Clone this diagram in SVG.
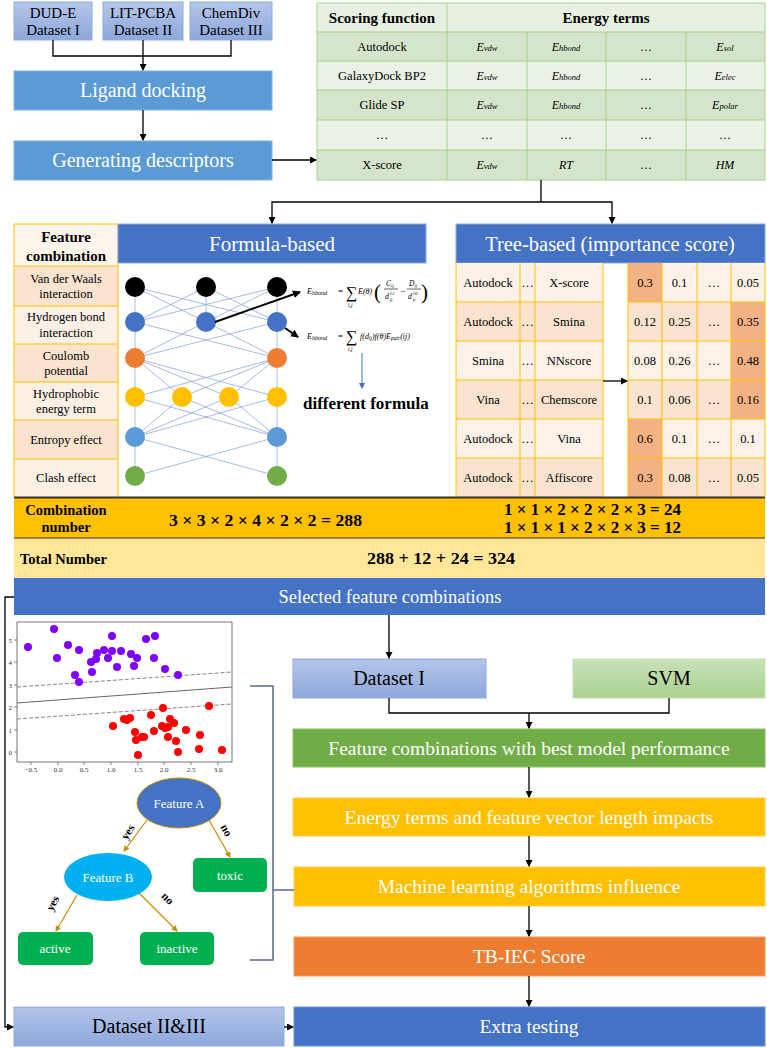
<svg xmlns="http://www.w3.org/2000/svg" width="767" height="1048" viewBox="0 0 767 1048">
<defs>
<style>
text{font-family:"Liberation Serif","Times New Roman",serif;}
.w{fill:#fff;}
.c{text-anchor:middle;}
.b{font-weight:bold;}
.i{font-style:italic;}
.ln{fill:none;stroke:#000;stroke-width:1.3;}
.nn{stroke:#8faadc;stroke-width:0.8;}
.gt{stroke:#a9d18e;stroke-width:1;}
.ot{stroke:#ffc000;stroke-width:1;}
.sans{font-family:"DejaVu Sans","Liberation Sans",sans-serif;}
.br{fill:none;stroke:#5a6a8a;stroke-width:1.5;}
.edge{stroke:#bf9000;stroke-width:1.2;fill:none;}
</style>
<marker id="ah" markerWidth="7" markerHeight="7" refX="6" refY="3.5" orient="auto" markerUnits="userSpaceOnUse"><path d="M0,0 L7,3.5 L0,7 z" fill="#000"/></marker>
<marker id="ahb" markerWidth="8" markerHeight="8" refX="7" refY="4" orient="auto" markerUnits="userSpaceOnUse"><path d="M0,0 L8,4 L0,8 z" fill="#000"/></marker>
<marker id="ahblue" markerWidth="6" markerHeight="6" refX="5" refY="3" orient="auto" markerUnits="userSpaceOnUse"><path d="M0,0 L6,3 L0,6 z" fill="#4472c4"/></marker>
<marker id="ahg" markerWidth="6" markerHeight="6" refX="5" refY="3" orient="auto" markerUnits="userSpaceOnUse"><path d="M0,0 L6,3 L0,6 z" fill="#bf9000"/></marker>
<linearGradient id="gb" x1="0" y1="0" x2="0" y2="1"><stop offset="0" stop-color="#b4c5e9"/><stop offset="1" stop-color="#8ea8dc"/></linearGradient>
<linearGradient id="gg" x1="0" y1="0" x2="0" y2="1"><stop offset="0" stop-color="#c8e2b8"/><stop offset="1" stop-color="#a9d18e"/></linearGradient>
</defs>
<rect width="767" height="1048" fill="#fff"/>

<!-- top datasets -->
<g id="dude"><rect x="14" y="2" width="78" height="38" fill="url(#gb)" stroke="#8faadc"/><text class="c" x="53" y="18" font-size="15">DUD-E</text><text class="c" x="53" y="35" font-size="15">Dataset I</text></g>
<g id="litpcba"><rect x="103" y="2" width="80" height="38" fill="url(#gb)" stroke="#8faadc"/><text class="c" x="143" y="18" font-size="15">LIT-PCBA</text><text class="c" x="143" y="35" font-size="15">Dataset II</text></g>
<g id="chemdiv"><rect x="190" y="2" width="82" height="38" fill="url(#gb)" stroke="#8faadc"/><text class="c" x="231" y="18" font-size="15">ChemDiv</text><text class="c" x="231" y="35" font-size="15">Dataset III</text></g>
<g id="docking"><rect x="14" y="71" width="258" height="39" fill="#5b9bd5" stroke="#7fb0df"/><text class="c w" x="143" y="97" font-size="20">Ligand docking</text></g>
<g id="descriptors"><rect x="14" y="141" width="258" height="39" fill="#5b9bd5" stroke="#7fb0df"/><text class="c w" x="143" y="167" font-size="20">Generating descriptors</text></g>

<!-- scoring table -->
<g id="scoring-table">
<rect x="317" y="3" width="448" height="29" fill="#e8f0e2"/>
<rect x="317" y="32" width="448" height="29" fill="#d5e5cb"/>
<rect x="317" y="61" width="448" height="29" fill="#eaf1e5"/>
<rect x="317" y="90" width="448" height="30" fill="#d5e5cb"/>
<rect x="317" y="120" width="448" height="30" fill="#eaf1e5"/>
<rect x="317" y="150" width="448" height="30" fill="#d5e5cb"/>
<g class="gt">
<line x1="317" y1="3" x2="765" y2="3"/><line x1="317" y1="32" x2="765" y2="32"/><line x1="317" y1="61" x2="765" y2="61"/><line x1="317" y1="90" x2="765" y2="90"/><line x1="317" y1="120" x2="765" y2="120"/><line x1="317" y1="150" x2="765" y2="150"/><line x1="317" y1="180" x2="765" y2="180"/>
<line x1="317" y1="3" x2="317" y2="180"/><line x1="447" y1="3" x2="447" y2="180"/><line x1="527" y1="32" x2="527" y2="180"/><line x1="606" y1="32" x2="606" y2="180"/><line x1="686" y1="32" x2="686" y2="180"/><line x1="765" y1="3" x2="765" y2="180"/>
</g>
<text class="c b" x="382" y="23" font-size="15">Scoring function</text>
<text class="c b" x="606" y="23" font-size="15">Energy terms</text>
<g font-size="12.5">
<text class="c" x="382" y="51">Autodock</text>
<text class="c" x="382" y="80">GalaxyDock BP2</text>
<text class="c" x="382" y="109">Glide SP</text>
<text class="c" x="382" y="139">…</text>
<text class="c" x="382" y="169">X-score</text>
</g>
<g font-size="12" class="i">
<text class="c" x="487" y="51">E<tspan font-size="8.5">vdw</tspan></text>
<text class="c" x="566" y="51">E<tspan font-size="8.5">hbond</tspan></text>
<text class="c" x="646" y="51">…</text>
<text class="c" x="725" y="51">E<tspan font-size="8.5">sol</tspan></text>
<text class="c" x="487" y="80">E<tspan font-size="8.5">vdw</tspan></text>
<text class="c" x="566" y="80">E<tspan font-size="8.5">hbond</tspan></text>
<text class="c" x="646" y="80">…</text>
<text class="c" x="725" y="80">E<tspan font-size="8.5">elec</tspan></text>
<text class="c" x="487" y="109">E<tspan font-size="8.5">vdw</tspan></text>
<text class="c" x="566" y="109">E<tspan font-size="8.5">hbond</tspan></text>
<text class="c" x="646" y="109">…</text>
<text class="c" x="725" y="109">E<tspan font-size="8.5">polar</tspan></text>
<text class="c" x="487" y="139">…</text>
<text class="c" x="566" y="139">…</text>
<text class="c" x="646" y="139">…</text>
<text class="c" x="725" y="139">…</text>
<text class="c" x="487" y="169">E<tspan font-size="8.5">vdw</tspan></text>
<text class="c" x="566" y="169">RT</text>
<text class="c" x="646" y="169">…</text>
<text class="c" x="725" y="169">HM</text>
</g>
</g>

<!-- feature combination column -->
<g id="feature-column">
<rect x="14" y="224" width="104" height="42" fill="#fef5ec"/>
<rect x="14" y="266" width="104" height="40" fill="#fbe4cf"/>
<rect x="14" y="306" width="104" height="38" fill="#fdf1e6"/>
<rect x="14" y="344" width="104" height="38" fill="#fbe4cf"/>
<rect x="14" y="382" width="104" height="38" fill="#fdf1e6"/>
<rect x="14" y="420" width="104" height="39" fill="#fbe4cf"/>
<rect x="14" y="459" width="104" height="38" fill="#fdf1e6"/>
<g class="ot">
<line x1="14" y1="224" x2="118" y2="224"/><line x1="14" y1="266" x2="118" y2="266"/><line x1="14" y1="306" x2="118" y2="306"/><line x1="14" y1="344" x2="118" y2="344"/><line x1="14" y1="382" x2="118" y2="382"/><line x1="14" y1="420" x2="118" y2="420"/><line x1="14" y1="459" x2="118" y2="459"/>
<line x1="14" y1="224" x2="14" y2="497"/><line x1="118" y1="224" x2="118" y2="497"/>
</g>
<text class="c b" x="66" y="242" font-size="15">Feature</text>
<text class="c b" x="66" y="261" font-size="15">combination</text>
<g font-size="12.5">
<text class="c" x="66" y="283">Van der Waals</text><text class="c" x="66" y="298">interaction</text>
<text class="c" x="66" y="321">Hydrogen bond</text><text class="c" x="66" y="337">interaction</text>
<text class="c" x="66" y="360">Coulomb</text><text class="c" x="66" y="375">potential</text>
<text class="c" x="66" y="398">Hydrophobic</text><text class="c" x="66" y="413">energy term</text>
<text class="c" x="66" y="444">Entropy effect</text>
<text class="c" x="66" y="482">Clash effect</text>
</g>
</g>

<g id="formula-header"><rect x="118" y="224" width="308" height="39" fill="#4472c4" stroke="#8faadc"/><text class="c w" x="272" y="251" font-size="21">Formula-based</text></g>

<!-- neural net -->
<g id="network">
<g class="nn">
<path d="M135,287L135,322M135,287L206,322M135,287L277,322M206,287L135,322M206,287L206,322M206,287L277,322M277,287L135,322M277,287L206,322M277,287L277,322"/>
<path d="M135,322L135,358M135,322L277,358M206,322L135,358M206,322L277,358M277,322L135,358M277,322L277,358"/>
<path d="M135,358L135,397M135,358L182,397M135,358L229,397M135,358L277,397M277,358L135,397M277,358L182,397M277,358L229,397M277,358L277,397"/>
<path d="M135,397L135,437M135,397L277,437M182,397L135,437M182,397L277,437M229,397L135,437M229,397L277,437M277,397L135,437M277,397L277,437"/>
<path d="M135,437L135,476M135,437L277,476M277,437L135,476M277,437L277,476"/>
</g>
<circle cx="135" cy="287" r="10" fill="#000"/><circle cx="206" cy="287" r="10" fill="#000"/><circle cx="277" cy="287" r="10" fill="#000"/>
<circle cx="135" cy="322" r="10" fill="#4472c4"/><circle cx="206" cy="322" r="10" fill="#4472c4"/><circle cx="277" cy="322" r="10" fill="#4472c4"/>
<circle cx="135" cy="358" r="10" fill="#ed7d31"/><circle cx="277" cy="358" r="10" fill="#ed7d31"/>
<circle cx="135" cy="397" r="10" fill="#ffc000"/><circle cx="182" cy="397" r="10" fill="#ffc000"/><circle cx="229" cy="397" r="10" fill="#ffc000"/><circle cx="277" cy="397" r="10" fill="#ffc000"/>
<circle cx="135" cy="437" r="10" fill="#5b9bd5"/><circle cx="277" cy="437" r="10" fill="#5b9bd5"/>
<circle cx="135" cy="476" r="10" fill="#70ad47"/><circle cx="277" cy="476" r="10" fill="#70ad47"/>
</g>

<!-- formulas -->
<g id="formulas" font-size="8">
<text x="307" y="294" class="i">E<tspan font-size="6" dy="1">hbond</tspan></text>
<text x="338" y="294" font-size="9">=</text>
<text x="346" y="298" font-size="16">∑</text>
<text x="348" y="307" font-size="5.5" class="i">i,j</text>
<text x="358" y="294" class="i">E(θ)</text>
<text x="374" y="299" font-size="21">(</text>
<text class="i" x="386" y="286" font-size="7.5">C<tspan font-size="5" dy="1">ij</tspan></text>
<line x1="384" y1="289" x2="398" y2="289" stroke="#000" stroke-width="0.6"/>
<text class="i" x="385" y="299" font-size="7.5">d</text><text class="i" x="389.5" y="295" font-size="5">12</text><text class="i" x="389.5" y="301" font-size="5">ij</text>
<text x="400" y="294" font-size="9">−</text>
<text class="i" x="409" y="286" font-size="7.5">D<tspan font-size="5" dy="1">ij</tspan></text>
<line x1="407" y1="289" x2="421" y2="289" stroke="#000" stroke-width="0.6"/>
<text class="i" x="408" y="299" font-size="7.5">d</text><text class="i" x="412.5" y="295" font-size="5">10</text><text class="i" x="412.5" y="301" font-size="5">ij</text>
<text x="421" y="299" font-size="21">)</text>
<text x="307" y="339" class="i">E<tspan font-size="6" dy="1">hbond</tspan></text>
<text x="338" y="339" font-size="9">=</text>
<text x="346" y="342" font-size="16">∑</text>
<text x="348" y="351" font-size="5.5" class="i">i,j</text>
<text x="360" y="339" class="i">f(d<tspan font-size="5.5" dy="1">ij</tspan><tspan dy="-1">)f(θ)E</tspan><tspan font-size="5.5" dy="1">pair</tspan><tspan dy="-1">(ij)</tspan></text>
<text x="303" y="409" font-size="17" class="b">different formula</text>
</g>

<!-- tree-based -->
<g id="tree-header"><rect x="456" y="224" width="309" height="39" fill="#4472c4" stroke="#8faadc"/><text class="c w" x="610" y="251" font-size="20.5">Tree-based (importance score)</text></g>
<g id="tree-table">
<rect x="456" y="263" width="147" height="39" fill="#fdf2e8"/>
<rect x="456" y="302" width="147" height="39" fill="#fbe4cf"/>
<rect x="456" y="341" width="147" height="39" fill="#fdf2e8"/>
<rect x="456" y="380" width="147" height="39" fill="#fbe4cf"/>
<rect x="456" y="419" width="147" height="39" fill="#fdf2e8"/>
<rect x="456" y="458" width="147" height="39" fill="#fbe4cf"/>
<rect x="628" y="263" width="137" height="39" fill="#fdf2e8"/>
<rect x="628" y="302" width="137" height="39" fill="#fbe4cf"/>
<rect x="628" y="341" width="137" height="39" fill="#fdf2e8"/>
<rect x="628" y="380" width="137" height="39" fill="#fbe4cf"/>
<rect x="628" y="419" width="137" height="39" fill="#fdf2e8"/>
<rect x="628" y="458" width="137" height="39" fill="#fbe4cf"/>
<g fill="#f4b183">
<rect x="628" y="263" width="34" height="39"/>
<rect x="731" y="302" width="34" height="39"/>
<rect x="731" y="341" width="34" height="39"/>
<rect x="731" y="380" width="34" height="39"/>
<rect x="628" y="419" width="34" height="39"/>
<rect x="628" y="458" width="34" height="39"/>
</g>
<g class="ot">
<path d="M456,302H603M456,341H603M456,380H603M456,419H603M456,458H603M456,263V497M520,263V497M535,263V497M603,263V497"/>
<path d="M628,302H765M628,341H765M628,380H765M628,419H765M628,458H765M628,263V497M662,263V497M697,263V497M731,263V497M765,263V497"/>
</g>
<g font-size="12.5">
<text class="c" x="488" y="287">Autodock</text><text class="c" x="527.5" y="287">…</text><text class="c" x="569" y="287">X-score</text>
<text class="c" x="488" y="326">Autodock</text><text class="c" x="527.5" y="326">…</text><text class="c" x="569" y="326">Smina</text>
<text class="c" x="488" y="365">Smina</text><text class="c" x="527.5" y="365">…</text><text class="c" x="569" y="365">NNscore</text>
<text class="c" x="488" y="404">Vina</text><text class="c" x="527.5" y="404">…</text><text class="c" x="569" y="404">Chemscore</text>
<text class="c" x="488" y="443">Autodock</text><text class="c" x="527.5" y="443">…</text><text class="c" x="569" y="443">Vina</text>
<text class="c" x="488" y="482">Autodock</text><text class="c" x="527.5" y="482">…</text><text class="c" x="569" y="482">Affiscore</text>
<text class="c" x="645" y="287">0.3</text><text class="c" x="679.5" y="287">0.1</text><text class="c" x="714" y="287">…</text><text class="c" x="748" y="287">0.05</text>
<text class="c" x="645" y="326">0.12</text><text class="c" x="679.5" y="326">0.25</text><text class="c" x="714" y="326">…</text><text class="c" x="748" y="326">0.35</text>
<text class="c" x="645" y="365">0.08</text><text class="c" x="679.5" y="365">0.26</text><text class="c" x="714" y="365">…</text><text class="c" x="748" y="365">0.48</text>
<text class="c" x="645" y="404">0.1</text><text class="c" x="679.5" y="404">0.06</text><text class="c" x="714" y="404">…</text><text class="c" x="748" y="404">0.16</text>
<text class="c" x="645" y="443">0.6</text><text class="c" x="679.5" y="443">0.1</text><text class="c" x="714" y="443">…</text><text class="c" x="748" y="443">0.1</text>
<text class="c" x="645" y="482">0.3</text><text class="c" x="679.5" y="482">0.08</text><text class="c" x="714" y="482">…</text><text class="c" x="748" y="482">0.05</text>
</g>
</g>

<!-- combination rows -->
<g id="combination-row">
<rect x="14" y="498" width="751" height="40" fill="#ffc000"/>
<text class="c b" x="66" y="515" font-size="14.5">Combination</text>
<text class="c b" x="66" y="532" font-size="14.5">number</text>
<text class="b" x="169" y="526" font-size="16" textLength="193" lengthAdjust="spacingAndGlyphs">3 × 3 × 2 × 4 × 2 × 2 = 288</text>
<text class="b" x="504" y="515" font-size="16" textLength="177" lengthAdjust="spacingAndGlyphs">1 × 1 × 2 × 2 × 2 × 3 = 24</text>
<text class="b" x="504" y="533" font-size="16" textLength="177" lengthAdjust="spacingAndGlyphs">1 × 1 × 1 × 2 × 2 × 3 = 12</text>
</g>
<g id="total-row">
<rect x="14" y="538" width="751" height="40" fill="#ffe699"/>
<text class="b" x="20" y="564" font-size="14.5">Total Number</text>
<text class="b" x="367" y="564" font-size="16" textLength="148" lengthAdjust="spacingAndGlyphs">288 + 12 + 24 = 324</text>
</g>
<line x1="14" y1="497.5" x2="765" y2="497.5" stroke="#333" stroke-width="2"/>
<line x1="14" y1="538" x2="765" y2="538" stroke="#333" stroke-width="1"/>
<g id="selected"><rect x="14" y="578" width="751" height="37" fill="#4472c4"/><text class="c w" x="390" y="603" font-size="18.5">Selected feature combinations</text></g>

<!-- scatter plot -->
<g id="svm-plot">
<rect x="17" y="622" width="215" height="140" fill="#fff" stroke="#555" stroke-width="0.8"/>
<g stroke="#555" stroke-width="0.7">
<path d="M14,640H17M14,662H17M14,685H17M14,707H17M14,730H17M14,752H17"/>
<path d="M31,762V765M58,762V765M84,762V765M111,762V765M138,762V765M164,762V765M191,762V765M218,762V765"/>
</g>
<g class="sans" font-size="7" fill="#333" text-anchor="end">
<text x="12" y="643">5</text><text x="12" y="665">4</text><text x="12" y="688">3</text><text x="12" y="710">2</text><text x="12" y="733">1</text><text x="12" y="755">0</text>
</g>
<g class="sans c" font-size="7" fill="#333">
<text x="31" y="772">−0.5</text><text x="58" y="772">0.0</text><text x="84" y="772">0.5</text><text x="111" y="772">1.0</text><text x="138" y="772">1.5</text><text x="164" y="772">2.0</text><text x="191" y="772">2.5</text><text x="218" y="772">3.0</text>
</g>
<line x1="17" y1="703" x2="232" y2="687" stroke="#666" stroke-width="1"/>
<line x1="17" y1="687" x2="232" y2="672" stroke="#777" stroke-width="0.9" stroke-dasharray="4,2"/>
<line x1="17" y1="719" x2="232" y2="704" stroke="#777" stroke-width="0.9" stroke-dasharray="4,2"/>
<g fill="#7f00ff">
<circle cx="28" cy="647" r="4"/><circle cx="54" cy="629" r="4"/><circle cx="57" cy="658" r="4"/><circle cx="68" cy="645" r="4"/><circle cx="79" cy="650" r="4"/><circle cx="75" cy="675" r="4"/><circle cx="79" cy="682" r="4"/><circle cx="91" cy="662" r="4"/><circle cx="92" cy="672" r="4"/><circle cx="96" cy="659" r="4"/><circle cx="97" cy="653" r="4"/><circle cx="104" cy="650" r="4"/><circle cx="108" cy="658" r="4"/><circle cx="112" cy="636" r="4"/><circle cx="112" cy="651" r="4"/><circle cx="117" cy="667" r="4"/><circle cx="121" cy="651" r="4"/><circle cx="131" cy="654" r="4"/><circle cx="134" cy="666" r="4"/><circle cx="137" cy="658" r="4"/><circle cx="146" cy="639" r="4"/><circle cx="155" cy="636" r="4"/><circle cx="154" cy="658" r="4"/><circle cx="165" cy="669" r="4"/><circle cx="178" cy="675" r="4"/>
</g>
<g fill="#ff0000">
<circle cx="113" cy="726" r="4"/><circle cx="124" cy="719" r="4"/><circle cx="127" cy="720" r="4"/><circle cx="130" cy="718" r="4"/><circle cx="135" cy="732" r="4"/><circle cx="136" cy="740" r="4"/><circle cx="138" cy="755" r="4"/><circle cx="142" cy="737" r="4"/><circle cx="144" cy="737" r="4"/><circle cx="151" cy="715" r="4"/><circle cx="154" cy="731" r="4"/><circle cx="163" cy="708" r="4"/><circle cx="162" cy="726" r="4"/><circle cx="165" cy="728" r="4"/><circle cx="168" cy="727" r="4"/><circle cx="168" cy="737" r="4"/><circle cx="170" cy="719" r="4"/><circle cx="174" cy="723" r="4"/><circle cx="176" cy="741" r="4"/><circle cx="178" cy="752" r="4"/><circle cx="186" cy="730" r="4"/><circle cx="200" cy="735" r="4"/><circle cx="199" cy="749" r="4"/><circle cx="209" cy="706" r="4"/><circle cx="222" cy="750" r="4"/>
</g>
</g>

<!-- decision tree -->
<g id="tree-edges">
<line class="edge" x1="147" y1="820" x2="124" y2="851" marker-end="url(#ahg)"/>
<line class="edge" x1="209" y1="820" x2="230" y2="857" marker-end="url(#ahg)"/>
<line class="edge" x1="77" y1="895" x2="56" y2="931" marker-end="url(#ahg)"/>
<line class="edge" x1="139" y1="893" x2="177" y2="931" marker-end="url(#ahg)"/>
<g class="b" font-size="11.5">
<text class="c" transform="translate(131,834) rotate(-58)">yes</text>
<text class="c" transform="translate(223,832) rotate(62)">no</text>
<text class="c" transform="translate(56,905) rotate(-62)">yes</text>
<text class="c" transform="translate(165,901) rotate(45)">no</text>
</g>
</g>
<g id="feature-a"><ellipse cx="179" cy="803" rx="42" ry="25" fill="#4472c4" stroke="#bf9000" stroke-width="1"/><text class="c w" x="179" y="808" font-size="13">Feature A</text></g>
<g id="feature-b"><ellipse cx="108" cy="877" rx="44" ry="24" fill="#00b0f0"/><text class="c w" x="108" y="882" font-size="13">Feature B</text></g>
<g id="toxic"><rect x="193" y="858" width="74" height="34" rx="5" fill="#00b050"/><text class="c w" x="230" y="880" font-size="13">toxic</text></g>
<g id="active"><rect x="18" y="932" width="75" height="33" rx="5" fill="#00b050"/><text class="c w" x="55" y="953" font-size="13">active</text></g>
<g id="inactive"><rect x="140" y="932" width="74" height="33" rx="5" fill="#00b050"/><text class="c w" x="177" y="953" font-size="13">inactive</text></g>

<!-- right flow -->
<g id="dataset1"><rect x="293" y="659" width="193" height="39" fill="url(#gb)" stroke="#8faadc"/><text class="c" x="389" y="685" font-size="20">Dataset I</text></g>
<g id="svm"><rect x="573" y="659" width="192" height="39" fill="url(#gg)" stroke="#c5e0b4"/><text class="c" x="669" y="685" font-size="20">SVM</text></g>
<g id="best"><rect x="293" y="729" width="472" height="38" fill="#70ad47" stroke="#8cbd6a"/><text class="c w" x="529" y="755" font-size="19.5">Feature combinations with best model performance</text></g>
<g id="energy"><rect x="293" y="798" width="472" height="38" fill="#ffc000" stroke="#ffd24d"/><text class="c w" x="529" y="824" font-size="19.5">Energy terms and feature vector length impacts</text></g>
<g id="ml"><rect x="294" y="867" width="471" height="39" fill="#ffc000" stroke="#ffd24d"/><text class="c w" x="529" y="893" font-size="19.5">Machine learning algorithms influence</text></g>
<g id="tbiec"><rect x="294" y="937" width="471" height="39" fill="#ed7d31" stroke="#f29b62"/><text class="c w" x="529" y="963" font-size="19.5">TB-IEC Score</text></g>
<g id="dataset23"><rect x="14" y="1007" width="270" height="39" fill="url(#gb)" stroke="#8faadc"/><text class="c" x="149" y="1033" font-size="20">Dataset II&amp;III</text></g>
<g id="extra"><rect x="294" y="1007" width="471" height="39" fill="#4472c4" stroke="#6b8fd0"/><text class="c w" x="529" y="1033" font-size="19.5">Extra testing</text></g>

<!-- connectors -->
<g id="connectors">
<path class="ln" d="M53,40V56H231V40M143,40V70" marker-end="url(#ah)"/>
<line class="ln" x1="143" y1="110" x2="143" y2="140" marker-end="url(#ah)"/>
<line class="ln" x1="272" y1="160" x2="316" y2="160" marker-end="url(#ah)"/>
<path class="ln" d="M541,180V202"/>
<path class="ln" d="M541,202H272V223" marker-end="url(#ah)"/>
<path class="ln" d="M541,202H612V223" marker-end="url(#ah)"/>
<line x1="215" y1="322" x2="300" y2="292" stroke="#000" stroke-width="2" marker-end="url(#ahb)"/>
<line x1="285" y1="328" x2="298" y2="337" stroke="#000" stroke-width="2" marker-end="url(#ahb)"/>
<line x1="362" y1="353" x2="362" y2="388" stroke="#4472c4" stroke-width="1" marker-end="url(#ahblue)"/>
<line class="ln" x1="603" y1="381" x2="627" y2="381" marker-end="url(#ah)"/>
<line class="ln" x1="389" y1="615" x2="389" y2="658" marker-end="url(#ah)"/>
<path class="ln" d="M389,698V713H669V698"/>
<line class="ln" x1="529" y1="713" x2="529" y2="728" marker-end="url(#ah)"/>
<line class="ln" x1="529" y1="767" x2="529" y2="797" marker-end="url(#ah)"/>
<line class="ln" x1="529" y1="836" x2="529" y2="866" marker-end="url(#ah)"/>
<line class="ln" x1="529" y1="906" x2="529" y2="936" marker-end="url(#ah)"/>
<line class="ln" x1="529" y1="976" x2="529" y2="1006" marker-end="url(#ah)"/>
<line class="ln" x1="284" y1="1027" x2="293" y2="1027" marker-end="url(#ah)"/>
<path class="ln" d="M14,597H5V1027H13" marker-end="url(#ah)"/>
<path class="br" d="M250,686H273V960H250M273,890H294"/>
</g>
</svg>
